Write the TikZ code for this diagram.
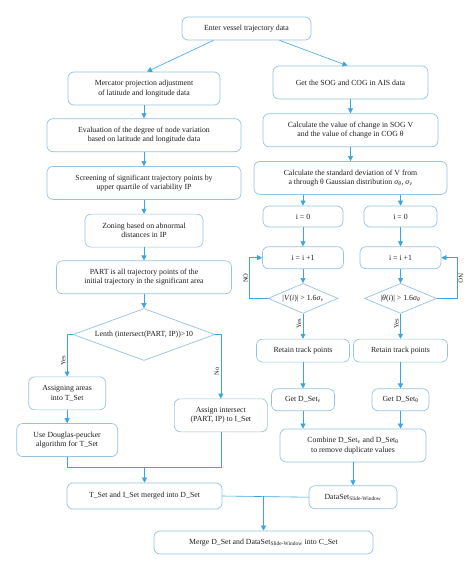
\documentclass[tikz,border=0pt]{standalone}
\usepackage{fontspec}
\setmainfont{Liberation Serif}
\usepackage{tikz}
\usetikzlibrary{arrows.meta,positioning,shapes.geometric}
\definecolor{boxline}{RGB}{150,195,228}
\definecolor{flow}{RGB}{60,165,222}
\definecolor{ink}{RGB}{30,30,30}
\newcommand{\boxfont}{\fontsize{7.8}{9.4}\selectfont}
\newcommand{\sig}[1]{\textit{σ}\textsubscript{\textit{#1}}}
\tikzset{
  block/.style={rectangle,draw=boxline,rounded corners=6pt,align=center,
    minimum height=33pt,font=\boxfont,text=ink,line width=0.7pt,inner sep=2pt},
  sblock/.style={block,minimum height=22pt},
  test/.style={diamond,draw=boxline,align=center,inner sep=0pt,
    font=\boxfont,text=ink,line width=0.7pt},
  link/.style={draw=flow,line width=0.6pt},
  arrow/.style={link,-{Triangle[length=5pt,width=5pt]}},
  lbl/.style={font=\fontsize{6.5}{7}\selectfont,text=ink,rotate=90,anchor=south,inner sep=1.5pt},
}

\begin{document}
\begin{tikzpicture}[x=1pt,y=-1pt,node distance=14pt]
\useasboundingbox (0,0) rectangle (474,571);
\node[sblock,minimum width=129pt,minimum height=23pt] (enter) at (246.5,28.5) {Enter vessel trajectory data};

% left column
\node[block,minimum width=152pt] (merc) at (144,88.5) {Mercator projection adjustment\\of latitude and longitude data};
\node[block,minimum width=194pt,below=13pt of merc] (eval) {Evaluation of the degree of node variation\\based on latitude and longitude data};
\node[block,minimum width=194pt,below=of eval] (screen) {Screening of significant trajectory points by\\upper quartile of variability IP};
\node[block,minimum width=118pt,below=of screen] (zone) {Zoning based on abnormal\\distances in IP};
\node[block,minimum width=175pt,below=13pt of zone] (part) {PART is all trajectory points of the\\initial trajectory in the significant area};
\node[test,shape aspect=2.73,minimum width=142pt,minimum height=52pt,below=of part] (len) {Lenth (intersect(PART, IP))>10};
\node[block,minimum width=77pt,below=42pt of len.west,xshift=-5.5pt] (areas) {Assigning areas\\into T\_Set};
\node[block,minimum width=101pt,below=13pt of areas] (dp) {Use Douglas-peucker\\algorithm for T\_Set};
\node[block,minimum width=93pt,below=64pt of len.east,xshift=5.5pt] (inter) {Assign intersect\\(PART, IP) to I\_Set};
\node[sblock,minimum width=155pt,minimum height=26pt] (merge) at (144.5,496) {T\_Set and I\_Set merged into D\_Set};
\coordinate[below=10pt of dp.south] (jl);

% right column
\node[block,minimum width=155pt] (sog) at (350.5,82.5) {Get the SOG and COG in AIS data};
\node[block,minimum width=175pt,below=of sog] (chg) {Calculate the value of change in SOG V\\and the value of change in COG θ};
\node[block,minimum width=193pt,below=of chg] (std) {Calculate the standard deviation of V from\\a through θ Gaussian distribution \sig{θ}, \sig{v}};
\node[sblock,minimum width=80pt,minimum height=21pt] (vzero) at (303,216.5) {i = 0};
\node[sblock,minimum width=73pt,minimum height=21pt] (tzero) at (400.5,216.5) {i = 0};
\node[sblock,minimum width=81pt,below=19pt of vzero] (vinc) {i = i +1};
\node[sblock,minimum width=81pt,below=19pt of tzero] (tinc) {i = i +1};
\node[test,shape aspect=2.33,minimum width=70pt,minimum height=30pt,below=of vinc] (vtest) {|\textit{V}(\textit{i})| > 1.6\sig{v}};
\node[test,shape aspect=2.33,minimum width=72pt,minimum height=30pt,below=of tinc] (ttest) {|\textit{θ}(\textit{i})| > 1.6\sig{θ}};
\node[sblock,minimum width=93pt,minimum height=23pt,below=25pt of vtest] (vkeep) {Retain track points};
\node[sblock,minimum width=94pt,minimum height=23pt,below=25pt of ttest] (tkeep) {Retain track points};
\node[sblock,minimum width=63pt,below=26pt of vkeep] (vget) {Get D\_Set\textsubscript{v}};
\node[sblock,minimum width=57pt,below=26pt of tkeep] (tget) {Get D\_Set\textsubscript{θ}};
\node[block,minimum width=146pt] (comb) at (353,445.5) {Combine D\_Set\textsubscript{v} and D\_Set\textsubscript{θ}\\to remove duplicate values};
\node[sblock,minimum width=88pt,minimum height=23pt,below=23pt of comb] (dset) {DataSet\textsubscript{Slide-Window}};
\node[sblock,minimum width=219pt,minimum height=23pt] (cset) at (263.5,542.5) {Merge D\_Set and DataSet\textsubscript{Slide-Window} into C\_Set};

% connectors
\draw[arrow] ([xshift=-33pt]enter.south) -- ([xshift=3pt]merc.north);
\draw[arrow] ([xshift=33pt]enter.south) -- ([xshift=-3pt]sog.north);
\draw[arrow] (merc) -- (eval);
\draw[arrow] (eval) -- (screen);
\draw[arrow] (screen) -- (zone);
\draw[arrow] (zone) -- (part);
\draw[arrow] (part) -- (len);
\draw[arrow] (len.west) -| node[lbl,pos=0.81] {Yes} (areas.north);
\draw[arrow] (len.east) -| node[lbl,pos=0.79] {No} (inter.north);
\draw[arrow] (areas) -- (dp);
\draw[link] (dp.south) -- (jl) -| (inter.south);
\draw[arrow] (jl -| merge.north) -- (merge.north);
\draw[link] (merge.east) -- (dset.west);
\draw[arrow] (merge.east -| cset.north) -- (cset.north);

\draw[arrow] (sog) -- (chg);
\draw[arrow] (chg) -- (std);
\draw[arrow] (std.south -| vzero.north) -- (vzero.north);
\draw[arrow] (std.south -| tzero.north) -- (tzero.north);
\draw[arrow] (vzero) -- (vinc);
\draw[arrow] (tzero) -- (tinc);
\draw[arrow] (vinc) -- (vtest);
\draw[arrow] (tinc) -- (ttest);
\draw[arrow] (vtest.west) -- ++(-18,0) |- node[lbl,pos=0.25] {NO} (vinc.west);
\draw[arrow] (ttest.east) -- ++(20,0) |- node[lbl,rotate=180,pos=0.25] {NO} (tinc.east);
\draw[arrow] (vtest) -- node[lbl,pos=0.4] {Yes} (vkeep);
\draw[arrow] (ttest) -- node[lbl,pos=0.4] {Yes} (tkeep);
\draw[arrow] (vkeep) -- (vget);
\draw[arrow] (tkeep) -- (tget);
\draw[arrow] (vget) -- (vget.south |- comb.north);
\draw[arrow] (tget) -- (tget.south |- comb.north);
\draw[arrow] (comb) -- (dset);
\end{tikzpicture}
\end{document}
